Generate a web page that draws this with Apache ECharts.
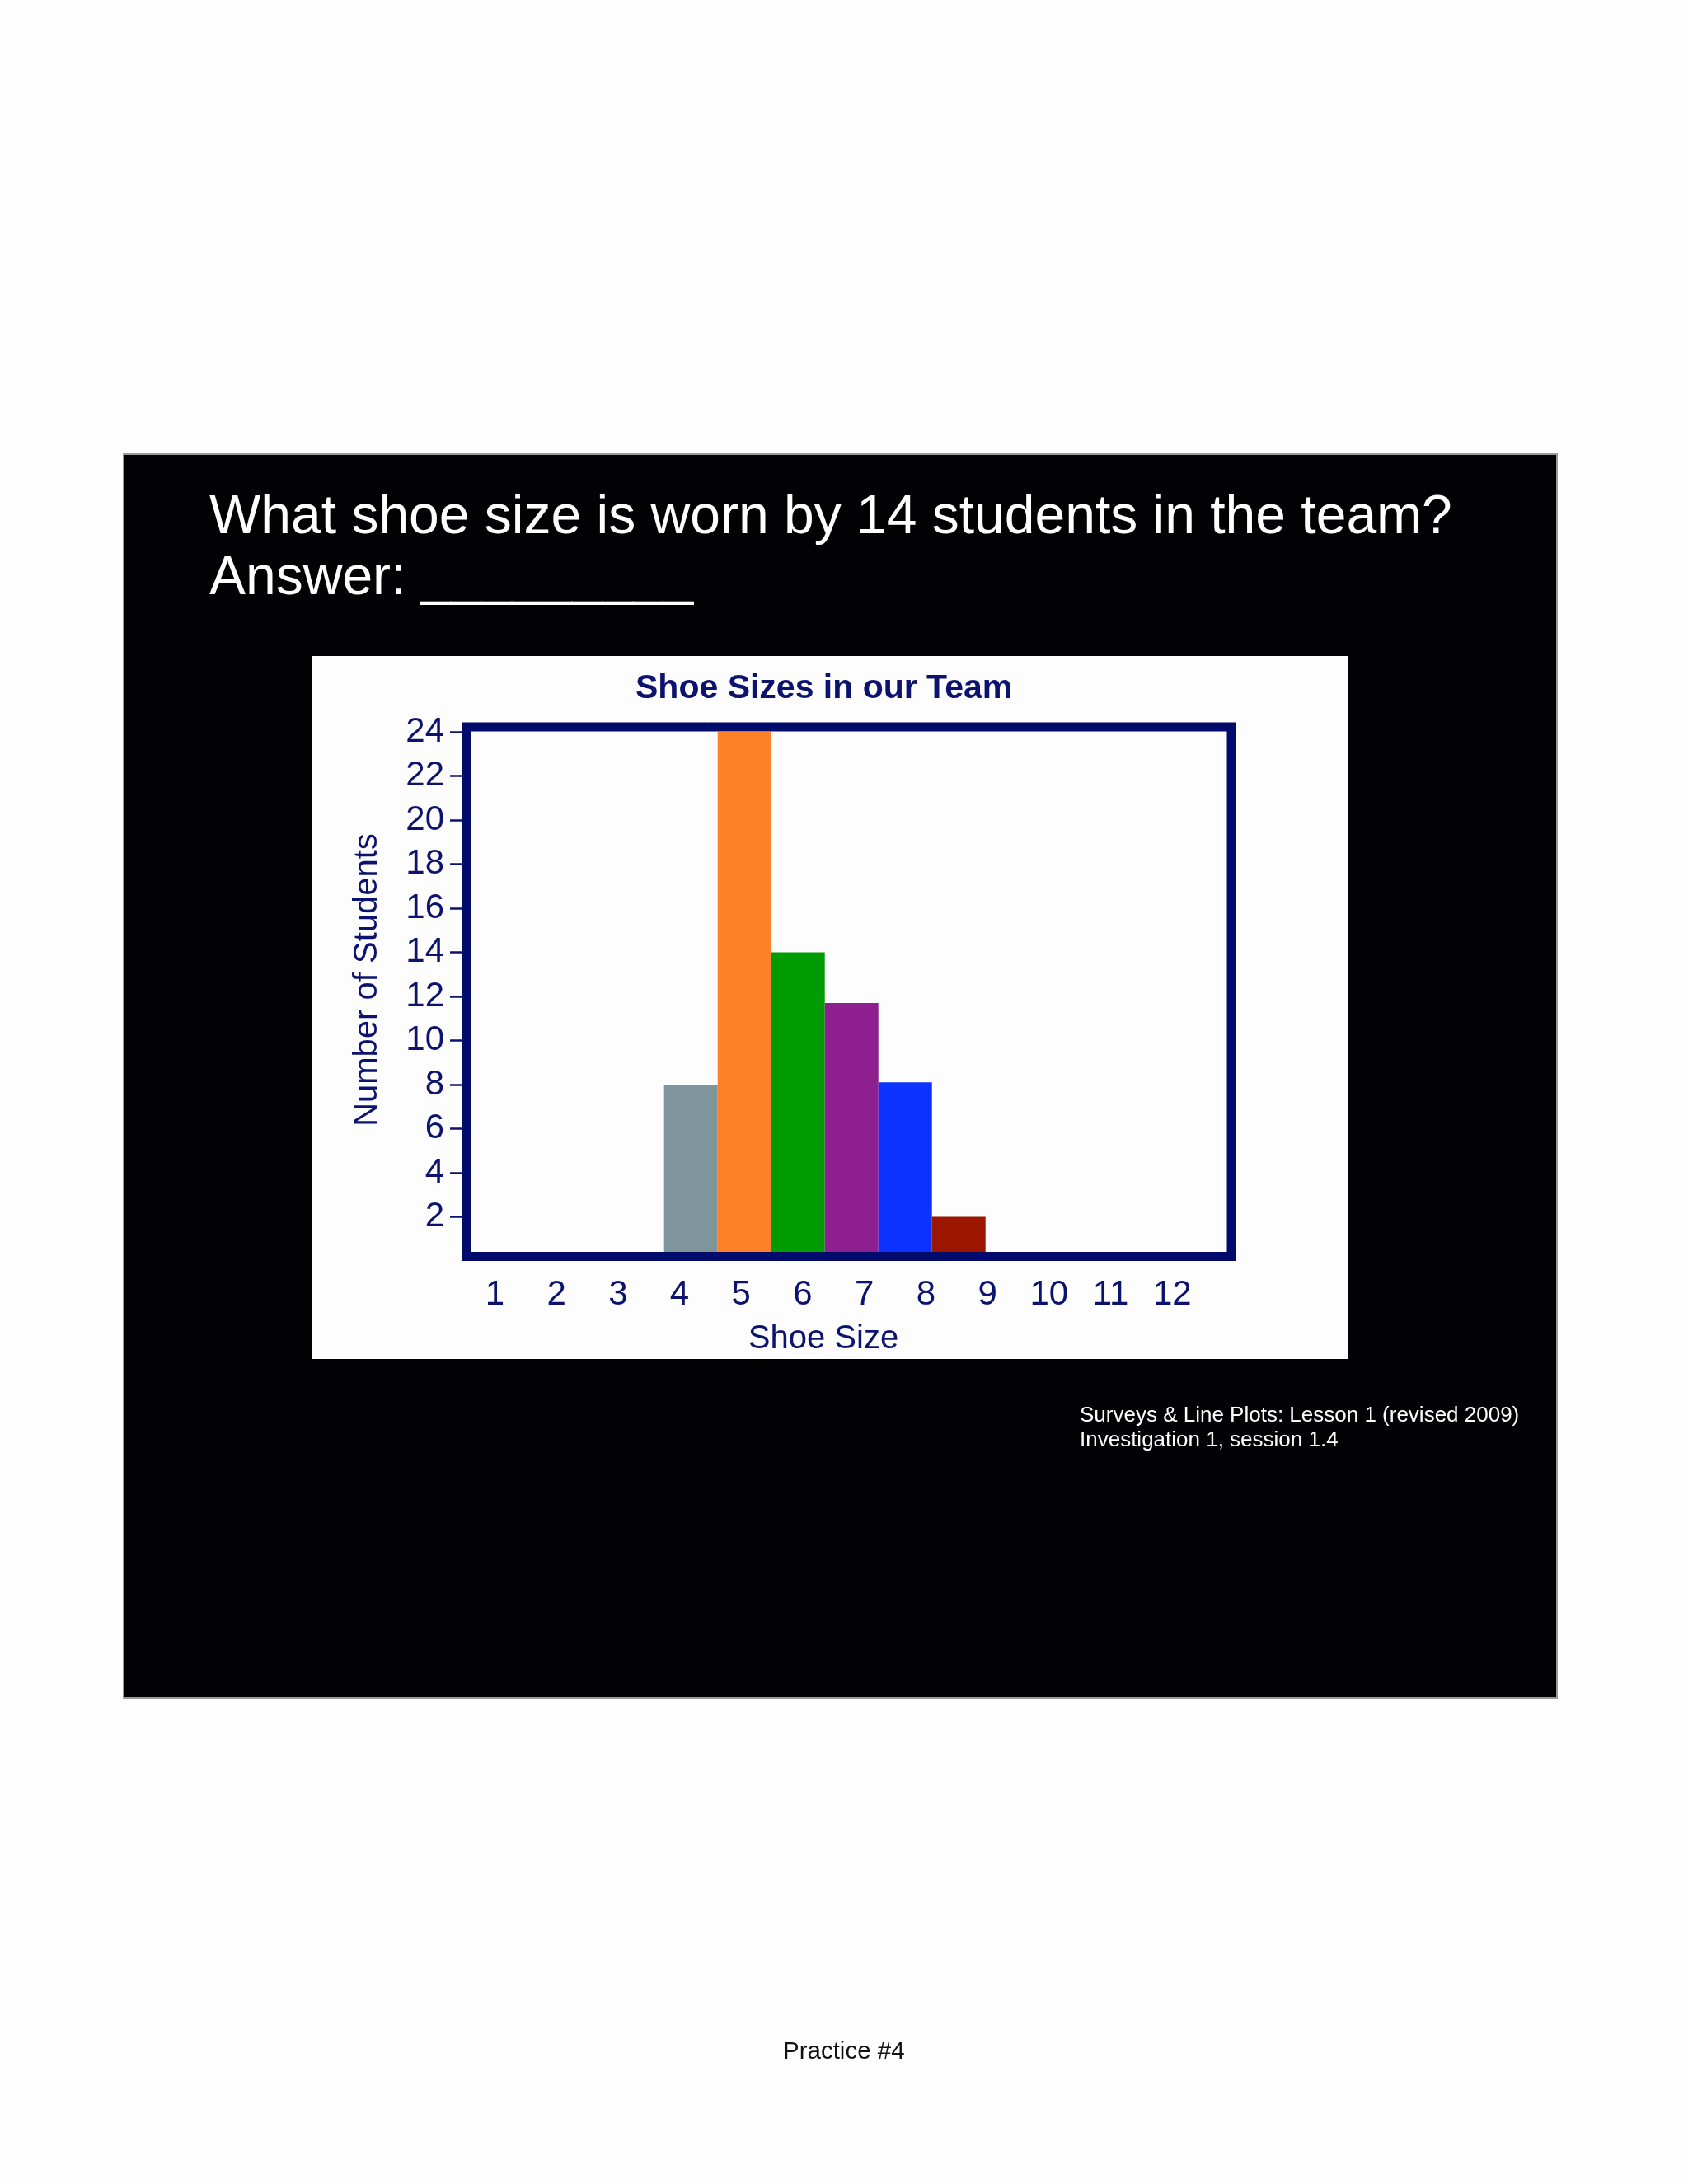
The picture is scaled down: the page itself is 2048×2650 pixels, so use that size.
<!DOCTYPE html>
<html><head><meta charset="utf-8">
<script src="https://cdn.jsdelivr.net/npm/echarts@6/dist/echarts.min.js"></script>
<style>html,body{margin:0;padding:0;background:#fefefe}#c{width:2048px;height:2650px}</style>
</head><body><div id="c"></div>
<script>
// ---- data ----
const shoeSizes = [1, 2, 3, 4, 5, 6, 7, 8, 9, 10, 11, 12];
const studentCounts = [0, 0, 0, 8, 24, 14, 11.7, 8.1, 2, 0, 0, 0];
const xTickValues = [1, 2, 3, 4, 5, 6, 7, 8, 9, 10, 11, 12];
const yTickValues = [2, 4, 6, 8, 10, 12, 14, 16, 18, 20, 22, 24];
const questionText = 'What shoe size is worn by 14 students in the team?\nAnswer: _________';
const chartTitle = 'Shoe Sizes in our Team';
const xName = 'Shoe Size';
const yName = 'Number of Students';
const footnote = 'Surveys & Line Plots: Lesson 1 (revised 2009)\nInvestigation 1, session 1.4';
const pageLabel = 'Practice #4';

// ---- styles ----
const barColors = ['#7f949b', '#7f949b', '#7f949b', '#7f949b', '#fd8128', '#019c03',
                   '#8e1f8e', '#0b32ff', '#9c1600', '#9c1600', '#9c1600', '#9c1600'];
const NAVY = '#0c136e';
const FRAME = '#000b6b';
const FONT = '"Liberation Sans", Arial, Helvetica, sans-serif';

const chart = echarts.init(document.getElementById('c'), null, {renderer: 'canvas'});

const option = {
  backgroundColor: '#fefefe',
  animation: false,
  graphic: [
    {type: 'rect', z: -10, shape: {x: 150, y: 551, width: 1739, height: 1509},
     style: {fill: '#020103', stroke: '#9a9a9a', lineWidth: 2}},
    {type: 'rect', z: -9, shape: {x: 378, y: 796, width: 1258, height: 853},
     style: {fill: '#fdfdfd'}}
  ],
  title: [
    {text: questionText, left: 254, top: 592, padding: 0,
     textStyle: {color: '#ffffff', fontSize: 66, fontWeight: 'normal', fontFamily: FONT, lineHeight: 74}},
    {text: chartTitle, left: 771, top: 815, padding: 0,
     textStyle: {color: NAVY, fontSize: 41, fontWeight: 'bold', fontFamily: FONT}},
    {text: footnote, left: 1310, top: 1703, padding: 0,
     textStyle: {color: '#ffffff', fontSize: 26, fontWeight: 'normal', fontFamily: FONT, lineHeight: 30}},
    {text: pageLabel, left: 950, top: 2475, padding: 0,
     textStyle: {color: '#111111', fontSize: 29.5, fontWeight: 'normal', fontFamily: FONT}}
  ],
  grid: [
    {left: 566, top: 888, width: 928, height: 642, show: false},
    {left: 566, top: 882, width: 928, height: 642.5, show: true,
     backgroundColor: 'transparent', borderColor: FRAME, borderWidth: 11, z: 10}
  ],
  xAxis: [
    {gridIndex: 0, type: 'value', min: -0.188, max: 14.089, show: false, position: 'top',
     axisLine: {onZero: false}, splitLine: {show: false}},
    {gridIndex: 0, type: 'value', min: 0.54, max: 12.96, position: 'bottom',
     axisLine: {show: false, onZero: false}, axisTick: {show: false}, splitLine: {show: false},
     axisLabel: {customValues: xTickValues, color: NAVY, fontSize: 42, fontFamily: FONT, margin: 20},
     name: xName, nameLocation: 'middle', nameGap: 75,
     nameTextStyle: {color: NAVY, fontSize: 40, fontFamily: FONT, padding: [0, 62, 0, 0]}},
    {gridIndex: 1, type: 'value', show: false, splitLine: {show: false}}
  ],
  yAxis: [
    {gridIndex: 0, type: 'value', min: 0, max: 24,
     axisLine: {show: false, onZero: false},
     axisTick: {show: true, customValues: yTickValues, length: 20, lineStyle: {color: NAVY, width: 2.5}},
     axisLabel: {customValues: yTickValues, color: NAVY, fontSize: 42, fontFamily: FONT, margin: 27},
     splitLine: {show: false},
     name: yName, nameLocation: 'middle', nameGap: 100,
     nameTextStyle: {color: NAVY, fontSize: 40, fontFamily: FONT, padding: [0, 0, 0, 40]}},
    {gridIndex: 1, type: 'value', show: false, splitLine: {show: false}}
  ],
  series: [{
    type: 'bar', xAxisIndex: 0, yAxisIndex: 0, barWidth: '100%',
    data: shoeSizes.map((s, i) => [s, studentCounts[i]]),
    itemStyle: {color: p => barColors[p.dataIndex]}
  }]
};
chart.setOption(option);
</script></body></html>
